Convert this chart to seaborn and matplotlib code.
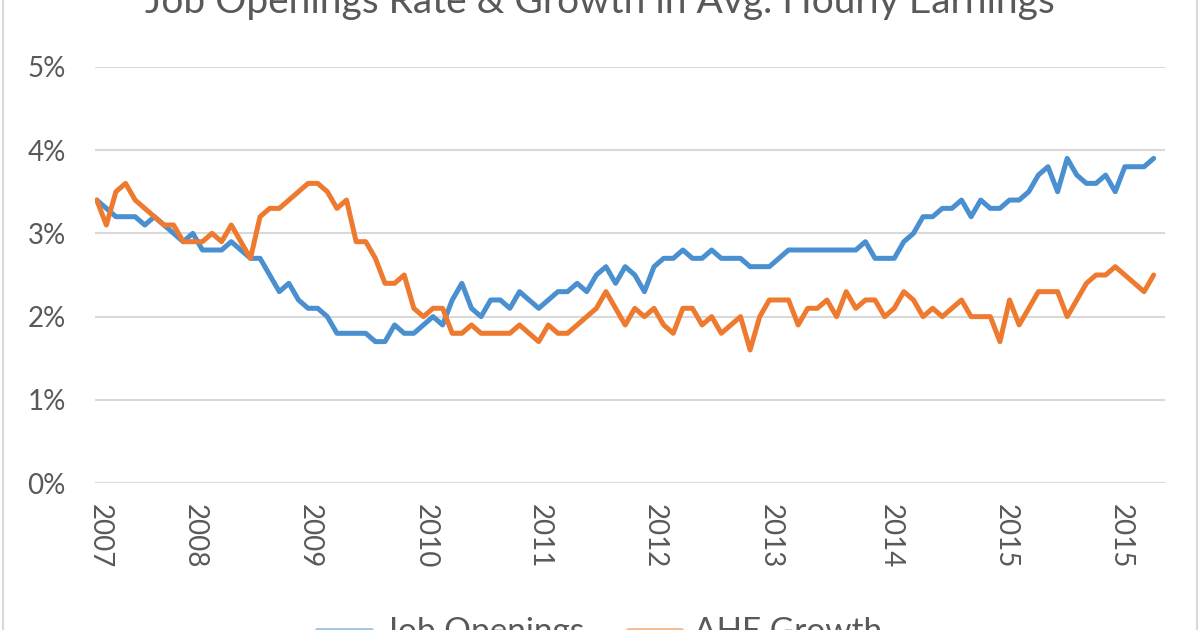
import matplotlib
matplotlib.use("Agg")
import matplotlib.pyplot as plt
import matplotlib.ticker as ticker
import matplotlib.patches as patches
import seaborn as sns
import numpy as np
import pandas as pd

# monthly values, early 2007 -> spring 2015 (percent)
job_openings = [
    3.4, 3.3, 3.2, 3.2, 3.2, 3.1, 3.2, 3.1, 3.0, 2.9,
    3.0, 2.8, 2.8, 2.8, 2.9, 2.8, 2.7, 2.7, 2.5, 2.3,
    2.4, 2.2, 2.1, 2.1, 2.0, 1.8, 1.8, 1.8, 1.8, 1.7,
    1.7, 1.9, 1.8, 1.8, 1.9, 2.0, 1.9, 2.2, 2.4, 2.1,
    2.0, 2.2, 2.2, 2.1, 2.3, 2.2, 2.1, 2.2, 2.3, 2.3,
    2.4, 2.3, 2.5, 2.6, 2.4, 2.6, 2.5, 2.3, 2.6, 2.7,
    2.7, 2.8, 2.7, 2.7, 2.8, 2.7, 2.7, 2.7, 2.6, 2.6,
    2.6, 2.7, 2.8, 2.8, 2.8, 2.8, 2.8, 2.8, 2.8, 2.8,
    2.9, 2.7, 2.7, 2.7, 2.9, 3.0, 3.2, 3.2, 3.3, 3.3,
    3.4, 3.2, 3.4, 3.3, 3.3, 3.4, 3.4, 3.5, 3.7, 3.8,
    3.5, 3.9, 3.7, 3.6, 3.6, 3.7, 3.5, 3.8, 3.8, 3.8,
    3.9,
]
ahe_growth = [
    3.4, 3.1, 3.5, 3.6, 3.4, 3.3, 3.2, 3.1, 3.1, 2.9,
    2.9, 2.9, 3.0, 2.9, 3.1, 2.9, 2.7, 3.2, 3.3, 3.3,
    3.4, 3.5, 3.6, 3.6, 3.5, 3.3, 3.4, 2.9, 2.9, 2.7,
    2.4, 2.4, 2.5, 2.1, 2.0, 2.1, 2.1, 1.8, 1.8, 1.9,
    1.8, 1.8, 1.8, 1.8, 1.9, 1.8, 1.7, 1.9, 1.8, 1.8,
    1.9, 2.0, 2.1, 2.3, 2.1, 1.9, 2.1, 2.0, 2.1, 1.9,
    1.8, 2.1, 2.1, 1.9, 2.0, 1.8, 1.9, 2.0, 1.6, 2.0,
    2.2, 2.2, 2.2, 1.9, 2.1, 2.1, 2.2, 2.0, 2.3, 2.1,
    2.2, 2.2, 2.0, 2.1, 2.3, 2.2, 2.0, 2.1, 2.0, 2.1,
    2.2, 2.0, 2.0, 2.0, 1.7, 2.2, 1.9, 2.1, 2.3, 2.3,
    2.3, 2.0, 2.2, 2.4, 2.5, 2.5, 2.6, 2.5, 2.4, 2.3,
    2.5,
]
series_names = ["Job Openings", "AHE Growth"]
year_labels = ["2007", "2008", "2009", "2010", "2011", "2012", "2013", "2014", "2015", "2015"]
year_tick_pos = [0.3, 10.2, 22.2, 34.2, 46.1, 58.1, 70.1, 82.6, 94.6, 106.6]
y_ticks = [0, 1, 2, 3, 4, 5]

BLUE = "#4a8fd0"
ORANGE = "#ee7a30"

months = np.arange(len(job_openings))
df = pd.concat([
    pd.DataFrame({"month": months, "value": job_openings, "series": series_names[0]}),
    pd.DataFrame({"month": months, "value": ahe_growth, "series": series_names[1]}),
])

sns.set_style("white")
plt.rcParams["font.family"] = ["Lato", "DejaVu Sans"]

fig = plt.figure(figsize=(12, 6.3), dpi=100)
ax = fig.add_axes([0.079, 0.233, 0.892, 0.661])

sns.lineplot(
    data=df, x="month", y="value", hue="series",
    palette={series_names[0]: BLUE, series_names[1]: ORANGE},
    linewidth=3.6, ax=ax, legend=False,
)

ax.set_xlim(-0.2, 111.2)
ax.set_ylim(0, 5)
ax.set_yticks(y_ticks)
ax.yaxis.set_major_formatter(ticker.FuncFormatter(lambda v, p: f"{v:.0f}%"))
ax.set_xticks(year_tick_pos)
ax.set_xticklabels(year_labels, rotation=270, va="top", ha="center")
ax.grid(axis="y", color="#d9d9d9", linewidth=1.5)
ax.set_axisbelow(True)
for s in ax.spines.values():
    s.set_visible(False)
ax.tick_params(axis="both", length=0, labelsize=20, colors="#595959")
ax.tick_params(axis="y", pad=21)
ax.tick_params(axis="x", pad=15)
ax.set_xlabel("")
ax.set_ylabel("")

# title sits mostly above the top edge, as in the reference crop
fig.text(0.5, 1 - 13 / 630, "Job Openings Rate & Growth in Avg. Hourly Earnings",
         ha="center", va="baseline", fontsize=28, color="#595959")

# legend at the bottom, cut off by the image edge
handles = [plt.Line2D([], [], color=BLUE, lw=3.6, alpha=0.5),
           plt.Line2D([], [], color=ORANGE, lw=3.6, alpha=0.5)]
fig.legend(handles, series_names, loc="upper center", bbox_to_anchor=(0.5, 0.02),
           ncol=2, frameon=False, fontsize=24, labelcolor="#595959",
           handlelength=1.6, handletextpad=0.4, columnspacing=1.3,
           borderpad=0, borderaxespad=0)

fig.patches.append(patches.Rectangle((3 / 1200, -0.1), 1194 / 1200, 1.2,
                                     transform=fig.transFigure, fill=False,
                                     edgecolor="#d9d9d9", linewidth=1.5))

fig.savefig("out.png", dpi=100)
